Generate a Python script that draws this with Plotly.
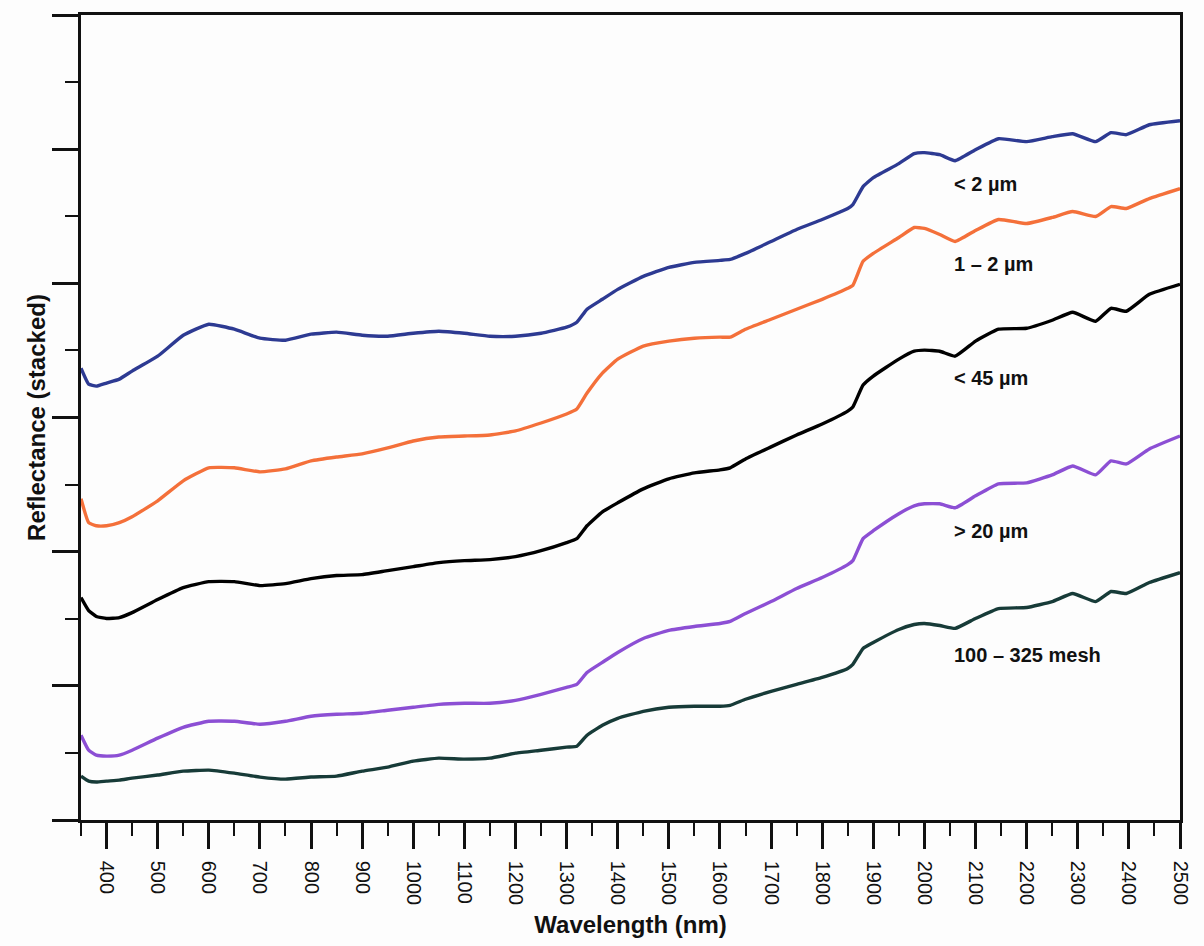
import plotly.graph_objects as go

wavelength = [350, 365, 380, 400, 425, 450, 500, 550, 600, 650, 700, 750, 800, 850, 900, 950,
              1000, 1050, 1100, 1150, 1200, 1250, 1300, 1320, 1340, 1370, 1400, 1450, 1500, 1550,
              1600, 1620, 1650, 1700, 1750, 1800, 1850, 1860, 1880, 1900, 1950, 1980, 2000, 2030,
              2060, 2100, 2145, 2200, 2250, 2290, 2335, 2365, 2395, 2440, 2500]

clay_lt2 = [3.368, 3.249, 3.234, 3.257, 3.286, 3.346, 3.457, 3.613, 3.695, 3.658, 3.591, 3.576,
            3.621, 3.636, 3.613, 3.606, 3.628, 3.643, 3.628, 3.606, 3.606, 3.628, 3.673, 3.710,
            3.807, 3.881, 3.955, 4.052, 4.119, 4.156, 4.171, 4.178, 4.223, 4.312, 4.401, 4.476,
            4.558, 4.587, 4.721, 4.788, 4.892, 4.967, 4.974, 4.959, 4.914, 4.996, 5.078, 5.056,
            5.093, 5.115, 5.056, 5.123, 5.108, 5.182, 5.212]

clay_1to2 = [2.394, 2.216, 2.193, 2.193, 2.216, 2.260, 2.379, 2.528, 2.625, 2.625, 2.595, 2.617,
             2.677, 2.706, 2.729, 2.773, 2.825, 2.855, 2.862, 2.870, 2.900, 2.959, 3.026, 3.063,
             3.182, 3.331, 3.435, 3.532, 3.569, 3.591, 3.599, 3.599, 3.658, 3.732, 3.807, 3.881,
             3.963, 3.985, 4.164, 4.223, 4.342, 4.416, 4.409, 4.364, 4.312, 4.394, 4.476, 4.446,
             4.491, 4.535, 4.498, 4.572, 4.558, 4.632, 4.706]

clay_lt45 = [1.658, 1.561, 1.517, 1.502, 1.509, 1.546, 1.643, 1.732, 1.777, 1.777, 1.747, 1.762,
             1.799, 1.822, 1.829, 1.859, 1.888, 1.918, 1.933, 1.941, 1.963, 2.007, 2.067, 2.097,
             2.193, 2.297, 2.364, 2.468, 2.543, 2.587, 2.610, 2.625, 2.691, 2.781, 2.870, 2.952,
             3.048, 3.078, 3.242, 3.309, 3.435, 3.494, 3.502, 3.494, 3.457, 3.569, 3.658, 3.665,
             3.725, 3.784, 3.717, 3.814, 3.792, 3.918, 3.993]

clay_gt20 = [0.632, 0.520, 0.483, 0.476, 0.483, 0.520, 0.610, 0.691, 0.736, 0.736, 0.714, 0.736,
             0.773, 0.788, 0.796, 0.818, 0.840, 0.862, 0.870, 0.870, 0.892, 0.937, 0.989, 1.011,
             1.100, 1.175, 1.249, 1.353, 1.413, 1.442, 1.465, 1.480, 1.539, 1.628, 1.725, 1.807,
             1.903, 1.933, 2.097, 2.156, 2.283, 2.342, 2.357, 2.357, 2.327, 2.416, 2.506, 2.513,
             2.572, 2.639, 2.572, 2.677, 2.654, 2.766, 2.862]

clay_mesh = [0.327, 0.290, 0.283, 0.290, 0.297, 0.312, 0.335, 0.364, 0.372, 0.349, 0.320, 0.305,
             0.320, 0.327, 0.364, 0.394, 0.439, 0.461, 0.454, 0.461, 0.498, 0.520, 0.543, 0.550,
             0.632, 0.706, 0.758, 0.810, 0.840, 0.848, 0.848, 0.855, 0.900, 0.959, 1.011, 1.063,
             1.130, 1.160, 1.279, 1.323, 1.420, 1.457, 1.465, 1.450, 1.428, 1.502, 1.576, 1.584,
             1.628, 1.688, 1.628, 1.703, 1.688, 1.770, 1.844]

series_names = ["< 2 µm", "1 – 2 µm", "< 45 µm", "> 20 µm", "100 – 325 mesh"]
series_values = [clay_lt2, clay_1to2, clay_lt45, clay_gt20, clay_mesh]
series_colors = ["#2d3a92", "#f4703a", "#000000", "#8c4fd4", "#173b38"]
label_y = [4.743, 4.141, 3.294, 2.156, 1.227]
label_x = 2054

x_ticks = list(range(400, 2501, 100))

FONT = "Liberation Sans, Arial, sans-serif"

fig = go.Figure()
for name, vals, col in zip(series_names, series_values, series_colors):
    fig.add_trace(go.Scatter(x=wavelength, y=vals, mode="lines", name=name,
                             line=dict(color=col, width=3.4, shape="spline", smoothing=0.4),
                             showlegend=False))

for name, ly in zip(series_names, label_y):
    fig.add_annotation(x=label_x, y=ly, text="<b>" + name + "</b>", showarrow=False,
                       xanchor="left", yanchor="middle",
                       font=dict(family=FONT, size=20, color="#111111"))

axis_font = dict(family=FONT, size=20, color="#111111")

fig.update_layout(
    width=1204, height=946,
    margin=dict(l=81, r=24, t=13, b=126),
    paper_bgcolor="#fdfdfd", plot_bgcolor="#fdfdfd",
    font=axis_font,
)
fig.update_xaxes(
    range=[350, 2500], tickmode="array", tickvals=x_ticks, ticktext=[str(v) for v in x_ticks],
    tickangle=90, ticks="outside", ticklen=26, tickwidth=2.5, tickcolor="#111111",
    ticklabelstandoff=8,
    minor=dict(ticks="outside", ticklen=13, tickwidth=2, tickcolor="#111111", dtick=50, tick0=350),
    showline=True, linecolor="#111111", linewidth=2.5, mirror=True,
    showgrid=False, zeroline=False, tickfont=axis_font,
    title=dict(text="<b>Wavelength (nm)</b>", font=dict(family=FONT, size=24, color="#111111"), standoff=12),
)
fig.update_yaxes(
    range=[0, 6], dtick=1, tick0=0, showticklabels=False,
    ticks="outside", ticklen=26, tickwidth=2.5, tickcolor="#111111",
    minor=dict(ticks="outside", ticklen=13, tickwidth=2, tickcolor="#111111", dtick=0.5),
    showline=True, linecolor="#111111", linewidth=2.5, mirror=True,
    showgrid=False, zeroline=False,
    title=dict(text="<b>Reflectance (stacked)</b>", font=dict(family=FONT, size=24, color="#111111"), standoff=0),
)

fig.write_html("out.html")
